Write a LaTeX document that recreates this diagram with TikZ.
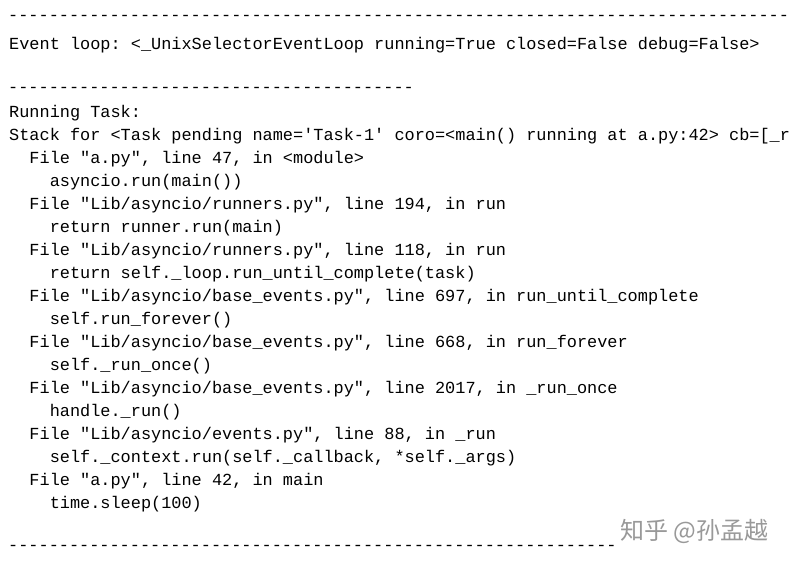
\documentclass[tikz,border=0pt]{standalone}
\usepackage{fontspec}
\setmonofont{Liberation Mono}
\newfontfamily\cjk{Noto Sans CJK SC}
\begin{document}
\begin{tikzpicture}[x=1pt,y=-1pt,
  ln/.style={anchor=west,inner sep=0pt,font=\ttfamily\fontsize{16.9}{18}\selectfont}]
\useasboundingbox (0,0) rectangle (791,564);
\fill[white] (0,0) rectangle (791,564);
\clip (0,0) rectangle (791,564);
\node[ln] (d1) at (8,18) {-----------------------------------------------------------------------------};
\node[ln] (l1) at (9,45) {Event loop: <\_UnixSelectorEventLoop running=True closed=False debug=False>};
\node[ln] (d2) at (8,90) {----------------------------------------};
\node[ln] (l2) at (9,113) {Running Task:};
\node[ln] (l3) at (9,136) {Stack for <Task pending name='Task-1' coro=<main() running at a.py:42> cb=[\_r};
\node[ln] (l4) at (9,159) {\ \ File "a.py", line 47, in <module>};
\node[ln] (l5) at (9,182) {\ \ \ \ asyncio.run(main())};
\node[ln] (l6) at (9,205) {\ \ File "Lib/asyncio/runners.py", line 194, in run};
\node[ln] (l7) at (9,228) {\ \ \ \ return runner.run(main)};
\node[ln] (l8) at (9,251) {\ \ File "Lib/asyncio/runners.py", line 118, in run};
\node[ln] (l9) at (9,274) {\ \ \ \ return self.\_loop.run\_until\_complete(task)};
\node[ln] (l10) at (9,297) {\ \ File "Lib/asyncio/base\_events.py", line 697, in run\_until\_complete};
\node[ln] (l11) at (9,320) {\ \ \ \ self.run\_forever()};
\node[ln] (l12) at (9,343) {\ \ File "Lib/asyncio/base\_events.py", line 668, in run\_forever};
\node[ln] (l13) at (9,366) {\ \ \ \ self.\_run\_once()};
\node[ln] (l14) at (9,389) {\ \ File "Lib/asyncio/base\_events.py", line 2017, in \_run\_once};
\node[ln] (l15) at (9,412) {\ \ \ \ handle.\_run()};
\node[ln] (l16) at (9,435) {\ \ File "Lib/asyncio/events.py", line 88, in \_run};
\node[ln] (l17) at (9,458) {\ \ \ \ self.\_context.run(self.\_callback, *self.\_args)};
\node[ln] (l18) at (9,481) {\ \ File "a.py", line 42, in main};
\node[ln] (l19) at (9,504) {\ \ \ \ time.sleep(100)};
\node[ln] (d3) at (8,548) {------------------------------------------------------------};
\node[anchor=west,inner sep=0pt,text=black!40,font=\cjk\fontsize{24}{26}\selectfont] (wm) at (620,531) {知乎 @孙孟越};
\end{tikzpicture}
\end{document}
